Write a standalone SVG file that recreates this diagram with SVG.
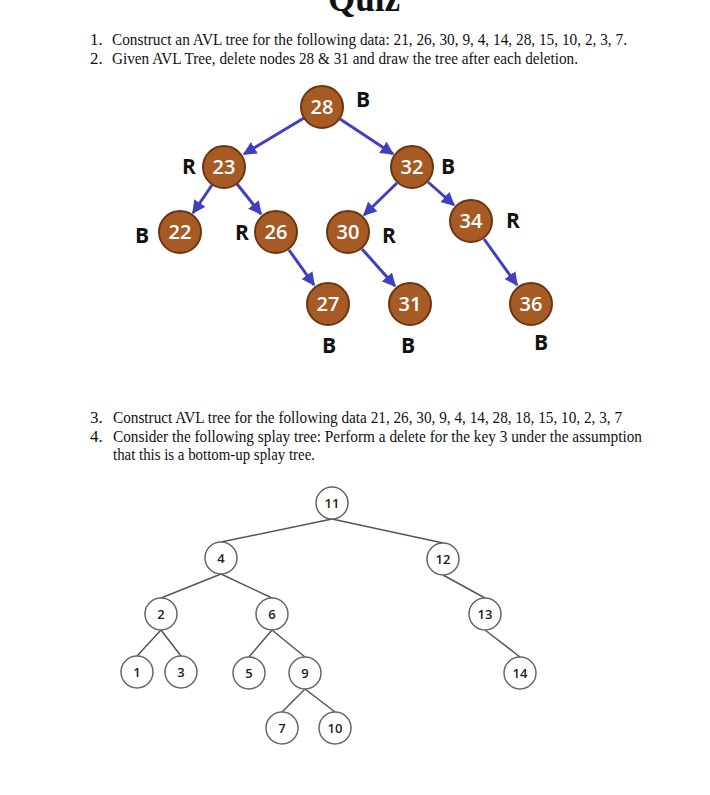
<svg xmlns="http://www.w3.org/2000/svg" width="710" height="795" viewBox="0 0 710 795">
<style>
.q{font-family:"Liberation Serif",serif;font-size:17px;fill:#111}
.t{font-family:"Liberation Serif",serif;font-size:40px;font-weight:bold;fill:#111}
.bc{fill:#a65a24;stroke:#6b3610;stroke-width:2}
.bn{font-family:"Open Sans","Noto Sans",sans-serif;font-size:20px;font-weight:600;fill:#fff;text-anchor:middle}
.lb{font-family:"Open Sans","Noto Sans",sans-serif;font-size:21px;font-weight:bold;fill:#111;text-anchor:middle}
.ar{stroke:#3f3fc4;stroke-width:3;fill:none;marker-end:url(#ah)}
.wc{fill:#fff;stroke:#666;stroke-width:1.5}
.wn{font-family:"Open Sans","Noto Sans",sans-serif;font-size:13px;font-weight:600;fill:#222;text-anchor:middle}
.ed{stroke:#555;stroke-width:1.5;fill:none}
</style>
<defs>
<marker id="ah" viewBox="0 0 10 10" refX="9" refY="5" markerWidth="4.5" markerHeight="4.5" orient="auto" markerUnits="strokeWidth">
<path d="M0,0 L10,5 L0,10 z" fill="#3f3fc4"/>
</marker>
</defs>
<rect width="710" height="795" fill="#fff"/>
<g id="text">
<text class="t" x="328" y="11" textLength="72" lengthAdjust="spacingAndGlyphs">Quiz</text>
<text class="q" x="90" y="45">1.</text>
<text class="q" x="112" y="45" textLength="515" lengthAdjust="spacingAndGlyphs">Construct an AVL tree for the following data: 21, 26, 30, 9, 4, 14, 28, 15, 10, 2, 3, 7.</text>
<text class="q" x="90" y="64">2.</text>
<text class="q" x="112" y="64" textLength="466" lengthAdjust="spacingAndGlyphs">Given AVL Tree, delete nodes 28 &amp; 31 and draw the tree after each deletion.</text>
<text class="q" x="90" y="423">3.</text>
<text class="q" x="113" y="423" textLength="509" lengthAdjust="spacingAndGlyphs">Construct AVL tree for the following data 21, 26, 30, 9, 4, 14, 28, 18, 15, 10, 2, 3, 7</text>
<text class="q" x="90" y="442">4.</text>
<text class="q" x="113" y="442" textLength="529" lengthAdjust="spacingAndGlyphs">Consider the following splay tree: Perform a delete for the key 3 under the assumption</text>
<text class="q" x="113" y="460" textLength="202" lengthAdjust="spacingAndGlyphs">that this is a bottom-up splay tree.</text>
</g>
<g id="connectors">
<line class="ar" x1="304" y1="118" x2="244" y2="154"/>
<line class="ar" x1="340" y1="119" x2="393" y2="154"/>
<line class="ar" x1="212" y1="185" x2="193" y2="213"/>
<line class="ar" x1="237" y1="184" x2="261" y2="214"/>
<line class="ar" x1="397" y1="183" x2="364" y2="215"/>
<line class="ar" x1="428" y1="182" x2="454" y2="205"/>
<line class="ar" x1="289" y1="250" x2="314" y2="285"/>
<line class="ar" x1="362" y1="249" x2="395" y2="286"/>
<line class="ar" x1="484" y1="239" x2="517" y2="285"/>
<line class="ed" x1="332" y1="519" x2="221" y2="542"/>
<line class="ed" x1="332" y1="519" x2="443" y2="543"/>
<line class="ed" x1="221" y1="574" x2="161" y2="598"/>
<line class="ed" x1="221" y1="574" x2="272" y2="598"/>
<line class="ed" x1="161" y1="630" x2="137" y2="656"/>
<line class="ed" x1="161" y1="630" x2="181" y2="656"/>
<line class="ed" x1="272" y1="630" x2="249" y2="657"/>
<line class="ed" x1="272" y1="630" x2="305" y2="657"/>
<line class="ed" x1="305" y1="689" x2="282" y2="712"/>
<line class="ed" x1="305" y1="689" x2="335" y2="712"/>
<line class="ed" x1="443" y1="575" x2="485" y2="598"/>
<line class="ed" x1="485" y1="630" x2="520" y2="657"/>
</g>
<g id="n28"><circle class="bc" cx="322" cy="107" r="21"/><text class="bn" x="322" y="114">28</text><text class="lb" x="363" y="107">B</text></g>
<g id="n23"><circle class="bc" cx="224" cy="167" r="21"/><text class="bn" x="224" y="174">23</text><text class="lb" x="189" y="174">R</text></g>
<g id="n32"><circle class="bc" cx="412" cy="167" r="21"/><text class="bn" x="412" y="174">32</text><text class="lb" x="448" y="174">B</text></g>
<g id="n22"><circle class="bc" cx="180" cy="232" r="21"/><text class="bn" x="180" y="239">22</text><text class="lb" x="142" y="243">B</text></g>
<g id="n26"><circle class="bc" cx="276" cy="232" r="21"/><text class="bn" x="276" y="239">26</text><text class="lb" x="242" y="240">R</text></g>
<g id="n30"><circle class="bc" cx="348" cy="232" r="21"/><text class="bn" x="348" y="239">30</text><text class="lb" x="389" y="243">R</text></g>
<g id="n34"><circle class="bc" cx="471" cy="221" r="21"/><text class="bn" x="471" y="228">34</text><text class="lb" x="513" y="228">R</text></g>
<g id="n27"><circle class="bc" cx="328" cy="304" r="21"/><text class="bn" x="328" y="311">27</text><text class="lb" x="329" y="353">B</text></g>
<g id="n31"><circle class="bc" cx="410" cy="304" r="21"/><text class="bn" x="410" y="311">31</text><text class="lb" x="408" y="353">B</text></g>
<g id="n36"><circle class="bc" cx="531" cy="304" r="21"/><text class="bn" x="531" y="311">36</text><text class="lb" x="541" y="350">B</text></g>
<g id="s11"><circle class="wc" cx="332" cy="503" r="16"/><text class="wn" x="332" y="507.5">11</text></g>
<g id="s4"><circle class="wc" cx="221" cy="558" r="16"/><text class="wn" x="221" y="562.5">4</text></g>
<g id="s12"><circle class="wc" cx="443" cy="559" r="16"/><text class="wn" x="443" y="563.5">12</text></g>
<g id="s2"><circle class="wc" cx="161" cy="614" r="16"/><text class="wn" x="161" y="618.5">2</text></g>
<g id="s6"><circle class="wc" cx="272" cy="614" r="16"/><text class="wn" x="272" y="618.5">6</text></g>
<g id="s13"><circle class="wc" cx="485" cy="614" r="16"/><text class="wn" x="485" y="618.5">13</text></g>
<g id="s1"><circle class="wc" cx="137" cy="672" r="16"/><text class="wn" x="137" y="676.5">1</text></g>
<g id="s3"><circle class="wc" cx="181" cy="672" r="16"/><text class="wn" x="181" y="676.5">3</text></g>
<g id="s5"><circle class="wc" cx="249" cy="673" r="16"/><text class="wn" x="249" y="677.5">5</text></g>
<g id="s9"><circle class="wc" cx="305" cy="673" r="16"/><text class="wn" x="305" y="677.5">9</text></g>
<g id="s14"><circle class="wc" cx="520" cy="673" r="16"/><text class="wn" x="520" y="677.5">14</text></g>
<g id="s7"><circle class="wc" cx="282" cy="728" r="16"/><text class="wn" x="282" y="732.5">7</text></g>
<g id="s10"><circle class="wc" cx="335" cy="728" r="16"/><text class="wn" x="335" y="732.5">10</text></g>
</svg>
